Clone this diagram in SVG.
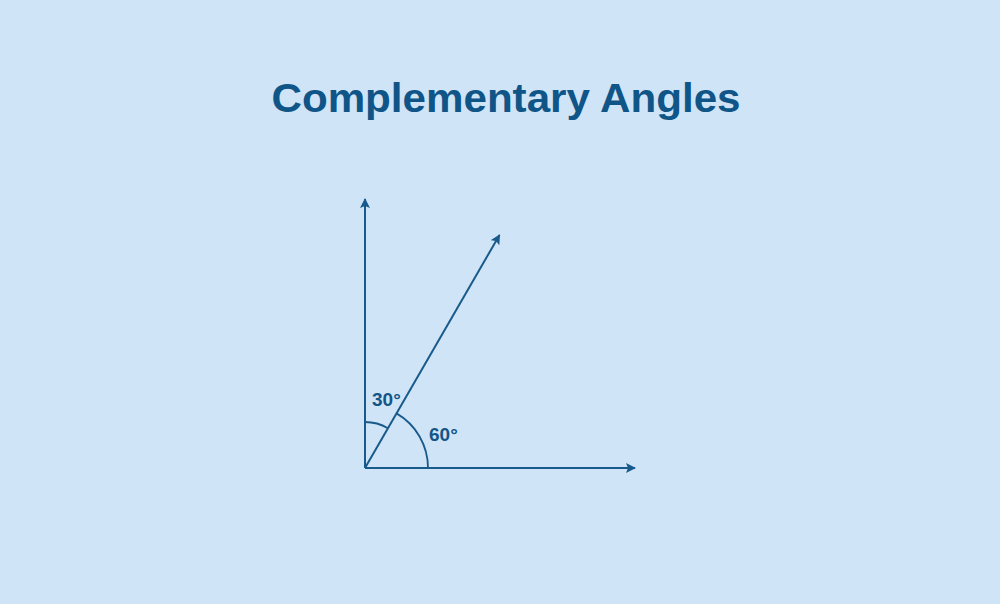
<svg xmlns="http://www.w3.org/2000/svg" width="1000" height="604" viewBox="0 0 1000 604">
<style>
.ray{stroke:#185a8b;stroke-width:2;fill:none}
.arc{stroke:#185a8b;stroke-width:1.8;fill:none}
.lbl{font-family:"Liberation Sans",Arial,sans-serif;font-weight:bold;font-size:19px;fill:#145587}
.title{font-family:"Liberation Sans",Arial,sans-serif;font-weight:bold;font-size:40px;fill:#0f5587}
</style>
<defs>
<marker id="ah" viewBox="0 0 10 10" refX="9" refY="5" markerWidth="5" markerHeight="5" orient="auto" markerUnits="strokeWidth">
<path d="M0,0 L10,5 L0,10 L2,5 Z" fill="#185a8b"/>
</marker>
</defs>
<rect width="1000" height="604" fill="#cfe4f6"/>
<text id="title" class="title" x="506" y="112" text-anchor="middle" textLength="469" lengthAdjust="spacingAndGlyphs">Complementary Angles</text>
<g id="connectors">
<line id="vertical-ray" class="ray" x1="365" y1="468" x2="365" y2="199" marker-end="url(#ah)"/>
<line id="horizontal-ray" class="ray" x1="365" y1="468" x2="635" y2="468" marker-end="url(#ah)"/>
<line id="diagonal-ray" class="ray" x1="365" y1="468" x2="499.5" y2="235" marker-end="url(#ah)"/>
</g>
<g id="angle-30">
<path class="arc" d="M365,422 A46,46 0 0 1 388,428.2"/>
<text class="lbl" x="372" y="406">30°</text>
</g>
<g id="angle-60">
<path class="arc" d="M396.5,413.4 A63,63 0 0 1 428,468"/>
<text class="lbl" x="429" y="441">60°</text>
</g>
</svg>
